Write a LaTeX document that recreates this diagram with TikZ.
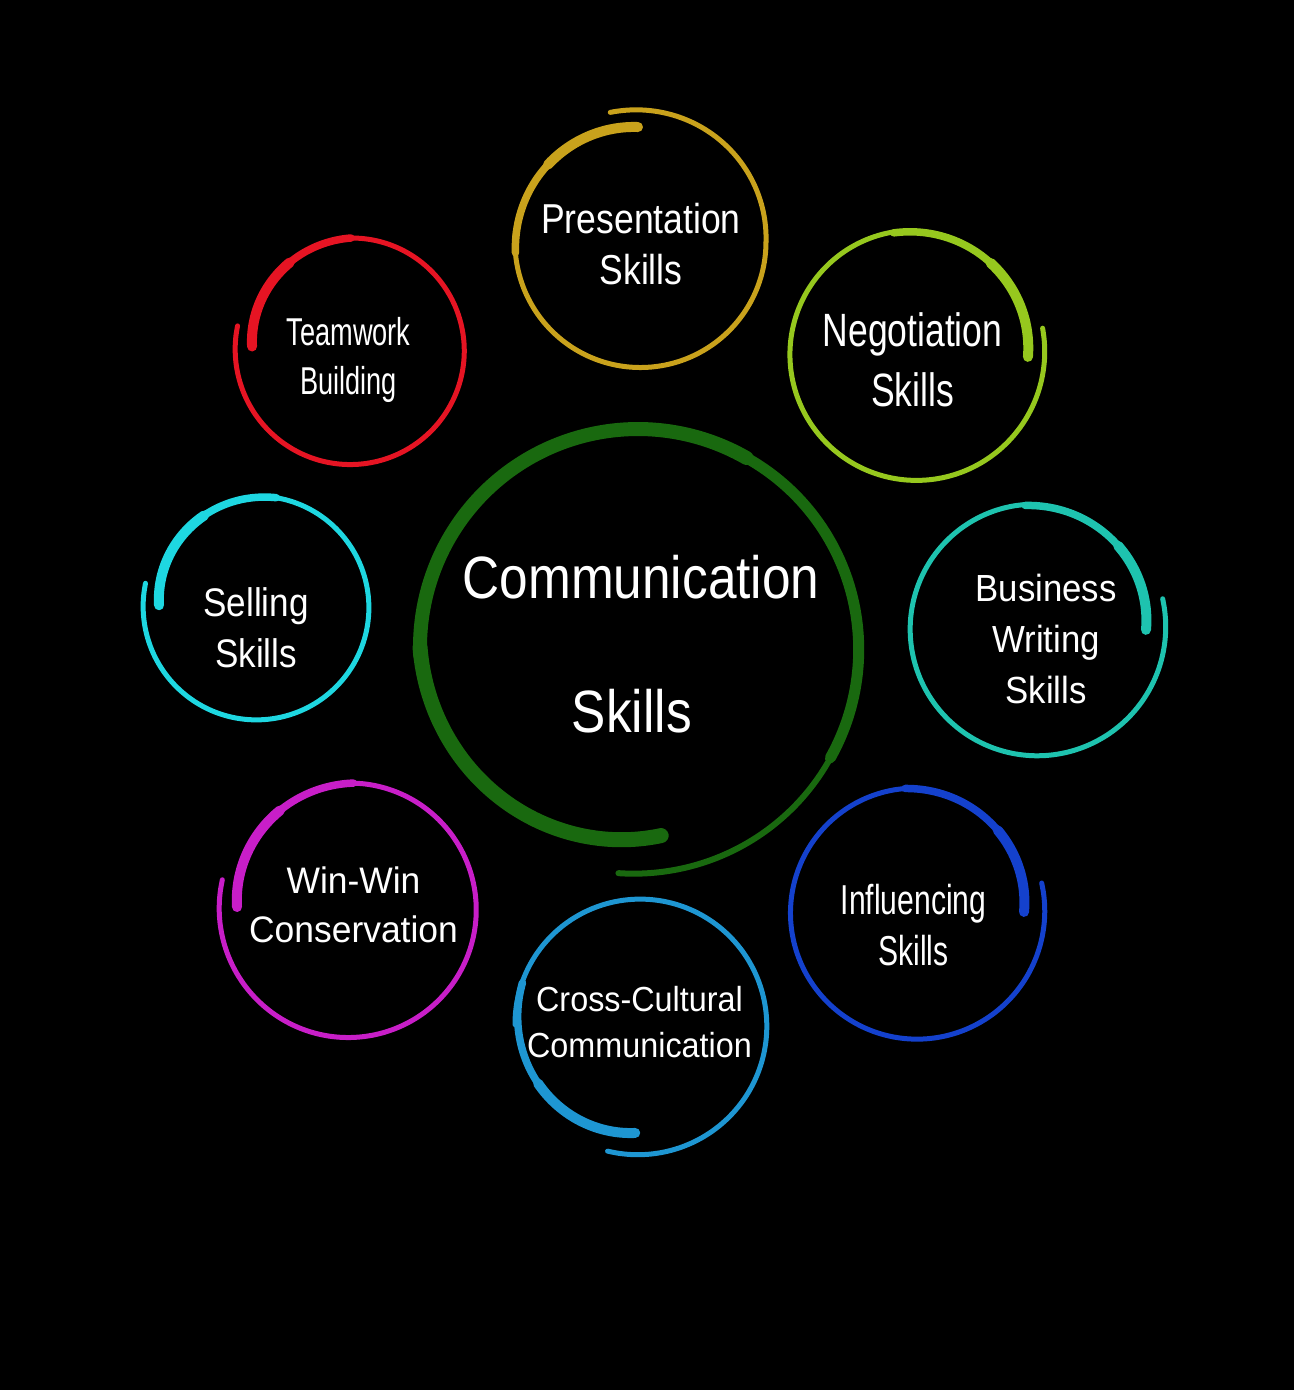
\documentclass[tikz,border=0pt]{standalone}
\usepackage{fontspec}
\usepackage{graphicx}
\setmainfont{Liberation Sans}
\definecolor{cgold}{RGB}{201,162,28}
\definecolor{cneg}{RGB}{150,200,30}
\definecolor{cred}{RGB}{230,20,35}
\definecolor{ccyan}{RGB}{30,215,225}
\definecolor{cteal}{RGB}{30,195,175}
\definecolor{cblue}{RGB}{20,65,205}
\definecolor{cmag}{RGB}{200,30,200}
\definecolor{csky}{RGB}{30,150,210}
\definecolor{cgreen}{RGB}{25,105,15}
% spiral arc: cx cy a1 a2 r1 r2 style
\newcommand\sarc[7]{\draw[#7] plot[smooth, domain=0:1, samples=60, variable=\s]
  ({#1+(#5+(#6-#5)*\s)*cos(#3+(#4-#3)*\s)},{#2+(#5+(#6-#5)*\s)*sin(#3+(#4-#3)*\s)});}
\newcommand\lbl[3]{\fontsize{#1}{#2}\selectfont\scalebox{#3}[1]}
\begin{document}
\begin{tikzpicture}[x=0.02cm,y=0.02cm,
  thinb/.style={line width=0.1cm, line cap=round},
  medb/.style={line width=0.15cm, line cap=round},
  coreb/.style={line width=0.2cm, line cap=round},
  lab/.style={text=white, inner sep=0pt, align=center}]
\fill[black] (0,0) rectangle (1294,-1390);
\useasboundingbox (0,0) rectangle (1294,-1390);

% Central ring
\sarc{638}{-647}{277}{180}{190}{218}{cgreen, line width=0.3cm, line cap=round}
\sarc{638}{-647}{182}{60}{218}{218}{cgreen, line width=0.28cm, line cap=round}
\sarc{638}{-647}{62}{-30}{218}{222}{cgreen, line width=0.22cm, line cap=round}
\sarc{638}{-647}{332}{265}{222}{227}{cgreen, line width=0.12cm, line cap=round}

% Presentation
\sarc{640}{-242}{175}{360}{125}{126}{cgold, thinb}
\sarc{640}{-242}{0}{103}{126}{133}{cgold, thinb}
\sarc{640}{-242}{91}{185}{115}{125}{cgold, medb}
\sarc{640}{-242}{91}{140}{115}{120.2}{cgold, coreb}

% Negotiation
\sarc{915}{-353}{11}{-260}{130}{123}{cneg, thinb}
\sarc{915}{-353}{100}{-2}{122}{113}{cneg, medb}
\sarc{915}{-353}{50}{-2}{117.6}{113}{cneg, coreb}

% Teamwork
\sarc{351}{-350}{168}{450}{116}{112}{cred, thinb}
\sarc{351}{-350}{90}{178}{112}{99}{cred, medb}
\sarc{351}{-350}{125}{178}{106.8}{99}{cred, coreb}

% Selling
\sarc{257}{-607}{168}{440}{114}{111}{ccyan, thinb}
\sarc{257}{-607}{80}{179}{111}{98}{ccyan, medb}
\sarc{257}{-607}{120}{179}{105.7}{98}{ccyan, coreb}

% Business Writing
\sarc{1036}{-628}{13}{-265}{130}{124}{cteal, thinb}
\sarc{1036}{-628}{95}{-1}{123}{110}{cteal, medb}
\sarc{1036}{-628}{45}{-1}{116.2}{110}{cteal, coreb}

% Influencing
\sarc{916}{-912}{13}{-265}{129}{124}{cblue, thinb}
\sarc{916}{-912}{95}{0}{124}{108}{cblue, medb}
\sarc{916}{-912}{45}{0}{115.6}{108}{cblue, coreb}

% Win-Win
\sarc{349}{-909}{167}{448}{130}{126}{cmag, thinb}
\sarc{349}{-909}{88}{179}{126}{112}{cmag, medb}
\sarc{349}{-909}{125}{179}{120.3}{112}{cmag, coreb}

% Cross-Cultural
\sarc{639}{-1025}{256}{540}{130}{124}{csky, thinb}
\sarc{639}{-1025}{268}{160}{108}{124}{csky, medb}
\sarc{639}{-1025}{268}{210}{108}{116.6}{csky, coreb}

% Labels
\node[lab] (central) at (641,-638.6) {\lbl{34}{76.2}{0.86}{\begin{tabular}{@{}c@{}}Communication\\Skills\hspace*{12pt}\end{tabular}}};
\node[lab] (pres) at (641,-248.8) {\lbl{23.8}{28.9}{0.85}{\begin{tabular}{@{}c@{}}Presentation\\Skills\end{tabular}}};
\node[lab] (nego) at (912.5,-364.8) {\lbl{26.6}{34}{0.76}{\begin{tabular}{@{}c@{}}Negotiation\\Skills\end{tabular}}};
\node[lab] (team) at (348.5,-360) {\lbl{22.1}{28.3}{0.70}{\begin{tabular}{@{}c@{}}Teamwork\\Building\end{tabular}}};
\node[lab] (sell) at (256,-632) {\lbl{22.7}{29.2}{0.88}{\begin{tabular}{@{}c@{}}Selling\\Skills\end{tabular}}};
\node[lab] (busi) at (1046,-642.4) {\lbl{21.5}{28.9}{0.92}{\begin{tabular}{@{}c@{}}Business\\Writing\\Skills\end{tabular}}};
\node[lab] (infl) at (913.5,-930) {\lbl{23.8}{28.9}{0.72}{\begin{tabular}{@{}c@{}}Influencing\\Skills\end{tabular}}};
\node[lab] (winw) at (353.5,-908) {\lbl{21}{28.3}{0.96}{\begin{tabular}{@{}c@{}}Win-Win\\Conservation\end{tabular}}};
\node[lab] (cros) at (639.5,-1025.4) {\lbl{19.8}{25.8}{0.93}{\begin{tabular}{@{}c@{}}Cross-Cultural\\Communication\end{tabular}}};
\end{tikzpicture}
\end{document}
